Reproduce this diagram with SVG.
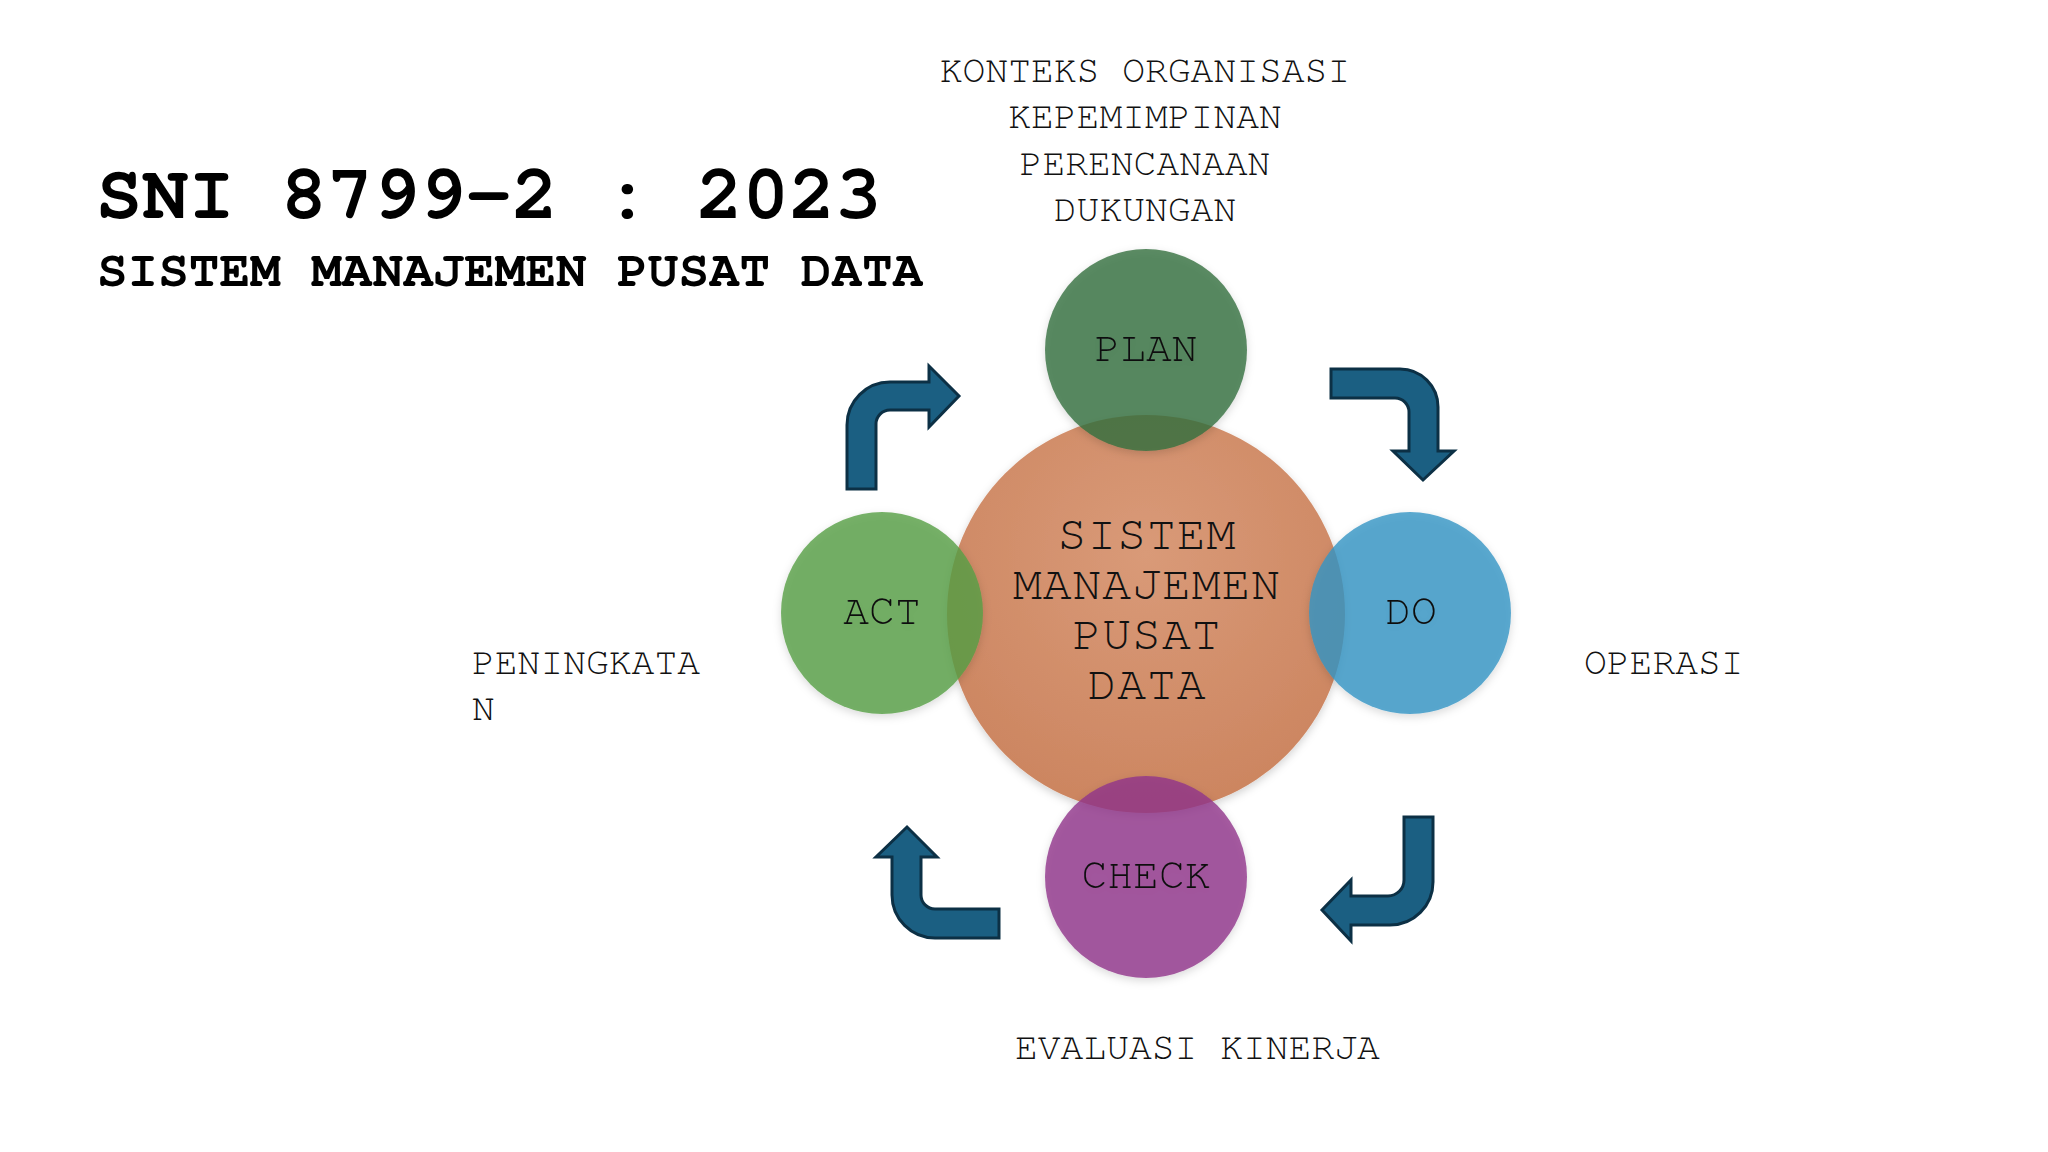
<svg xmlns="http://www.w3.org/2000/svg" width="2048" height="1152" viewBox="0 0 2048 1152">
<defs>
<style>
.t{font-family:"Nimbus Mono PS","Nimbus Mono L","FreeMono","Courier","Liberation Mono",monospace;fill:#111}
.title{font-family:"Nimbus Mono PS","Nimbus Mono L","FreeMono","Courier","Liberation Mono",monospace;font-weight:bold;fill:#000}
.lbl{font-size:38px}
.cl{font-size:43px;text-anchor:middle}
.arrow{fill:#1b5f82;stroke:#0c3045;stroke-width:3;stroke-linejoin:miter}
</style>
<filter id="soft" x="-20%" y="-20%" width="140%" height="140%">
<feGaussianBlur in="SourceAlpha" stdDeviation="4"/>
<feOffset dx="0" dy="3" result="b"/>
<feFlood flood-color="#000" flood-opacity="0.18"/>
<feComposite in2="b" operator="in"/>
<feMerge><feMergeNode/><feMergeNode in="SourceGraphic"/></feMerge>
</filter>
<radialGradient id="gC" cx="50%" cy="35%" r="65%">
<stop offset="0" stop-color="#d99a78"/><stop offset="1" stop-color="#cc8560"/>
</radialGradient>
</defs>
<rect width="2048" height="1152" fill="#fff"/>

<g id="title">
<text class="title" x="96" y="218" font-size="77">SNI 8799-2 : 2023</text>
<text class="title" x="97" y="286" font-size="51">SISTEM MANAJEMEN PUSAT DATA</text>
</g>

<g id="center" filter="url(#soft)">
<circle cx="1146" cy="614" r="199" fill="url(#gC)"/>
</g>
<g id="plan" filter="url(#soft)">
<circle cx="1146" cy="350" r="101" fill="#366f40" fill-opacity="0.8"/>
<text class="t cl" x="1146" y="361">PLAN</text>
</g>
<g id="do" filter="url(#soft)">
<circle cx="1410" cy="613" r="101" fill="#3695c4" fill-opacity="0.8"/>
<text class="t cl" x="1411" y="624">DO</text>
</g>
<g id="act" filter="url(#soft)">
<circle cx="882" cy="613" r="101" fill="#569f45" fill-opacity="0.8"/>
<text class="t cl" x="882" y="624">ACT</text>
</g>
<g id="check" filter="url(#soft)">
<circle cx="1146" cy="877" r="101" fill="#90368b" fill-opacity="0.8"/>
<text class="t cl" x="1146" y="888">CHECK</text>
</g>
<g id="center-label">
<text class="t" font-size="48" letter-spacing="1" text-anchor="middle"><tspan x="1147" y="549">SISTEM</tspan><tspan x="1147" y="599">MANAJEMEN</tspan><tspan x="1147" y="649">PUSAT</tspan><tspan x="1147" y="699">DATA</tspan></text>
</g>

<g id="connectors">
<path class="arrow" d="M847 489 L847 425 A43 43 0 0 1 890 382 L929 382 L929 366 L959 396 L929 427 L929 410 L890 410 A14 14 0 0 0 876 424 L876 489 Z"/>
<path class="arrow" d="M1331 369 L1400 369 A38 38 0 0 1 1438 407 L1438 451 L1454 451 L1423 480 L1393 451 L1409 451 L1409 412 A14 14 0 0 0 1395 398 L1331 398 Z"/>
<path class="arrow" d="M1404 817 L1433 817 L1433 882 A43 43 0 0 1 1390 925 L1351 925 L1351 941 L1322 910 L1351 880 L1351 896 L1388 896 A16 16 0 0 0 1404 880 Z"/>
<path class="arrow" d="M999 909 L935 909 A14 14 0 0 1 921 895 L921 857 L937 857 L907 827 L876 857 L892 857 L892 895 A43 43 0 0 0 935 938 L999 938 Z"/>
</g>

<g id="label-plan">
<text class="t lbl" text-anchor="middle"><tspan x="1145" y="82">KONTEKS ORGANISASI</tspan><tspan x="1145" y="128">KEPEMIMPINAN</tspan><tspan x="1145" y="175">PERENCANAAN</tspan><tspan x="1145" y="221">DUKUNGAN</tspan></text>
</g>
<g id="label-act">
<text class="t lbl"><tspan x="472" y="674">PENINGKATA</tspan><tspan x="472" y="720">N</tspan></text>
</g>
<g id="label-do">
<text class="t lbl" x="1584" y="674">OPERASI</text>
</g>
<g id="label-check">
<text class="t lbl" x="1015" y="1059">EVALUASI KINERJA</text>
</g>
</svg>
